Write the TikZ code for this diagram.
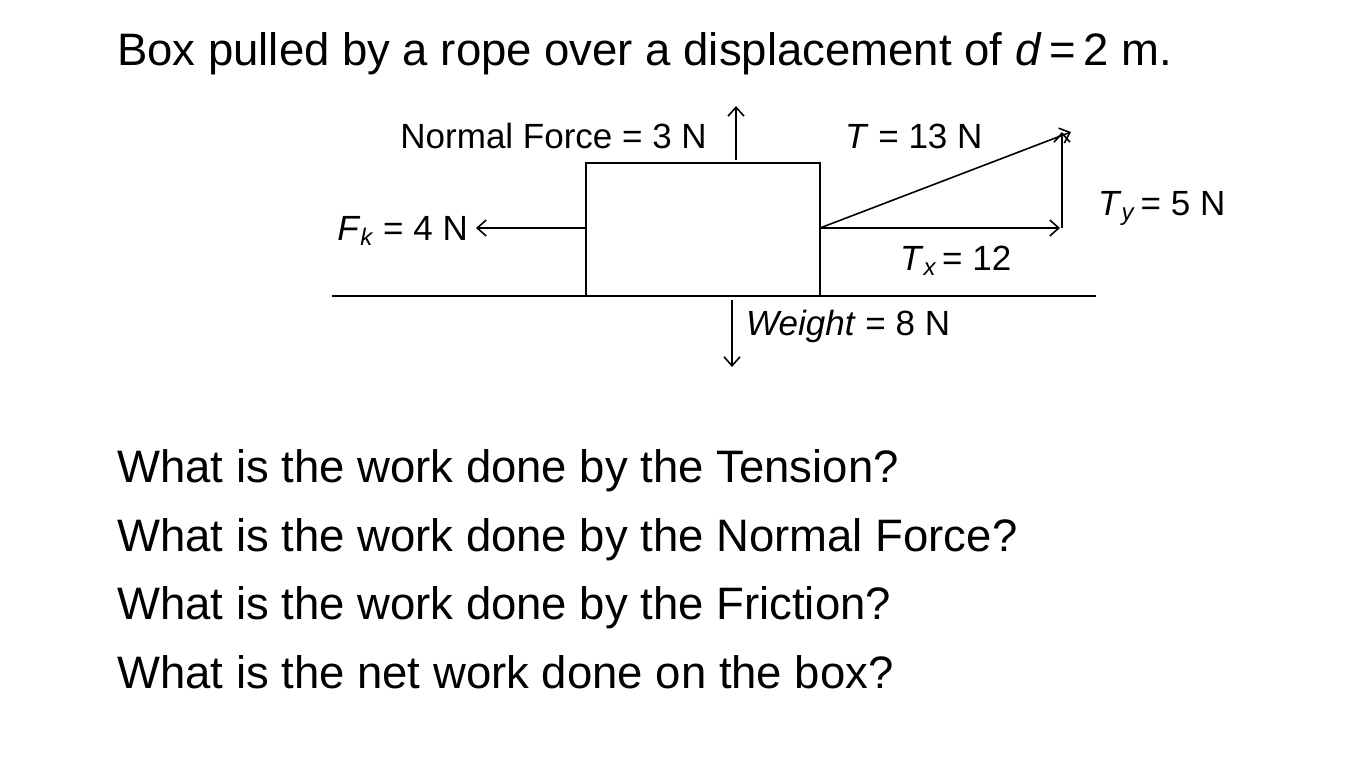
\documentclass[tikz,border=0pt]{standalone}
\usepackage{fontspec}
\setmainfont{Liberation Sans}
\usetikzlibrary{arrows.meta}
\newcommand{\sbs}[1]{\raisebox{-0.3ex}{\fontsize{24}{26}\selectfont\textit{#1}}}
\begin{document}
\begin{tikzpicture}[x=1pt,y=-1pt,
  frc/.style={line width=1.6pt,-{Straight Barb[length=9pt,width=16pt]}},
  big/.style={font=\fontsize{45.5}{50}\selectfont,anchor=base west,inner sep=0},
  lbl/.style={font=\fontsize{35}{38}\selectfont,inner sep=0}]
\useasboundingbox (0,0) rectangle (1354,756);
\node[big] (title) at (117,65) {Box pulled by a rope over a displacement of \textit{d}\,=\,2 m.};
\draw[line width=1.6pt] (586,163) rectangle (820,296);
\draw[line width=1.6pt] (332,296) coordinate (g1) -- (1096,296) coordinate (g2);
\coordinate (nA) at (736,160); \coordinate (nB) at (736,106);
\draw[frc] (nA) -- (nB);
\node[lbl,anchor=base east] (nl) at (707,148) {Normal Force = 3 N};
\coordinate (wA) at (732,300); \coordinate (wB) at (732,367);
\draw[frc] (wA) -- (wB);
\node[lbl,anchor=base west] (wl) at (746,335) {\textit{Weight} = 8 N};
\coordinate (fA) at (586,228); \coordinate (fB) at (476,228);
\draw[frc] (fA) -- (fB);
\node[lbl,anchor=base east] (fl) at (468,240) {\textit{F}\sbs{k} = 4 N};
\coordinate (tO) at (820,228);
\coordinate (tD) at (1071,132);
\coordinate (tX) at (1060,228);
\coordinate (tY0) at (1062,228); \coordinate (tY) at (1062,132);
\draw[frc] (tO) -- (tD);
\draw[frc] (tO) -- (tX);
\draw[frc] (tY0) -- (tY);
\node[lbl,anchor=base west] (tl) at (845,148) {\textit{T} = 13 N};
\node[lbl,anchor=base west] (tyl) at (1098,215) {\textit{T}\sbs{y}\,= 5 N};
\node[lbl,anchor=base west] (txl) at (900,270) {\textit{T}\sbs{x}\,= 12};
\node[big] (q1) at (117,482) {What is the work done by the Tension?};
\node[big] (q2) at (117,551) {What is the work done by the Normal Force?};
\node[big] (q3) at (117,619) {What is the work done by the Friction?};
\node[big] (q4) at (117,688) {What is the net work done on the box?};
\end{tikzpicture}
\end{document}
